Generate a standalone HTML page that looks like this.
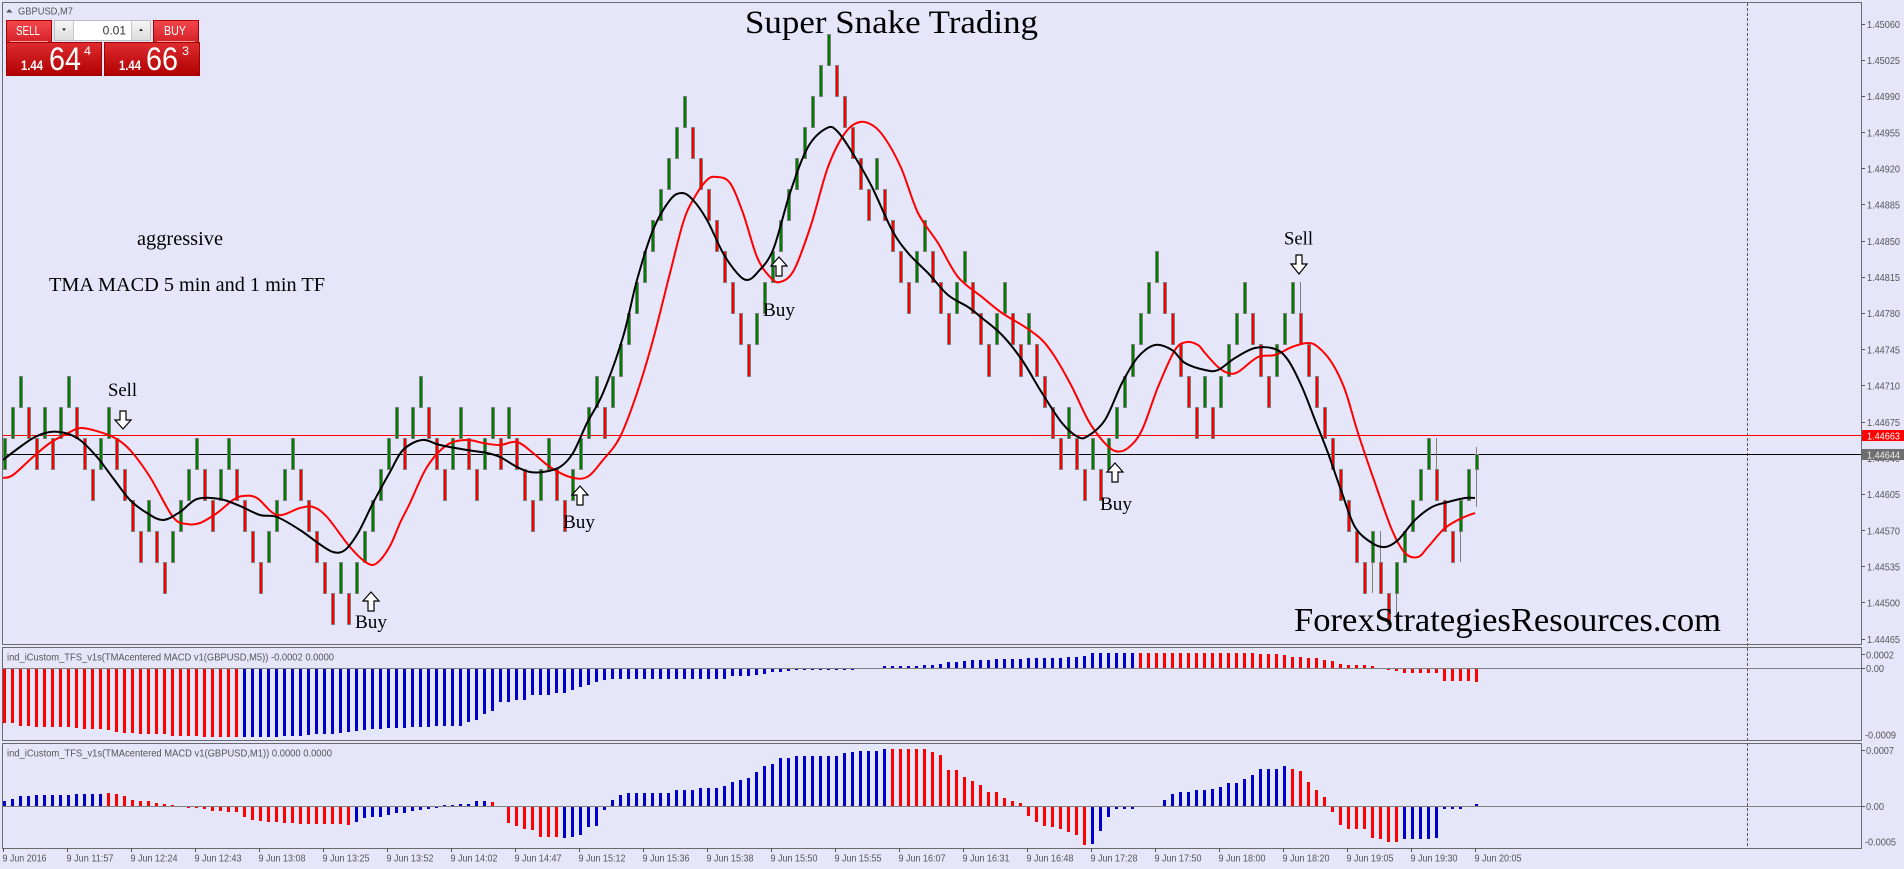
<!DOCTYPE html>
<html><head><meta charset="utf-8">
<style>
html,body{margin:0;padding:0;background:#E6E6FA;overflow:hidden;}
svg{display:block}
</style></head>
<body>
<svg id="c" width="1904" height="869" viewBox="0 0 1904 869" xmlns="http://www.w3.org/2000/svg">
<defs>
<linearGradient id="hd" x1="0" y1="0" x2="0" y2="1"><stop offset="0" stop-color="#f5484c"/><stop offset="1" stop-color="#d42028"/></linearGradient>
<linearGradient id="pr" x1="0" y1="0" x2="0" y2="1"><stop offset="0" stop-color="#de2c30"/><stop offset="1" stop-color="#b00000"/></linearGradient>
<linearGradient id="bt" x1="0" y1="0" x2="0" y2="1"><stop offset="0" stop-color="#f6f6f6"/><stop offset="1" stop-color="#dcdcdc"/></linearGradient>
</defs>
<rect width="1904" height="869" fill="#E6E6FA"/>

<!-- background lines -->
<line x1="1747.5" y1="3" x2="1747.5" y2="848" stroke="#555" stroke-width="1" stroke-dasharray="3,2"/>
<line x1="3" y1="435.5" x2="1861" y2="435.5" stroke="#ff0000" stroke-width="1"/>
<line x1="3" y1="454.5" x2="1861" y2="454.5" stroke="#000" stroke-width="1"/>
<line x1="3" y1="668.5" x2="1861" y2="668.5" stroke="#808080" stroke-width="1"/>
<line x1="3" y1="806.5" x2="1861" y2="806.5" stroke="#808080" stroke-width="1"/>

<g id="dyn"></g>

<!-- frames -->
<g fill="none" stroke="#6a6a6a" stroke-width="1">
<rect x="2.5" y="2.5" width="1859" height="642"/>
<rect x="2.5" y="647.5" width="1859" height="93"/>
<rect x="2.5" y="743.5" width="1859" height="105"/>
</g>

<!-- arrows -->
<g fill="#fff" stroke="#000" stroke-width="1.2" stroke-linejoin="miter">
<polygon points="120,411 126,411 126,420 131,420 123,429 115,420 120,420"/>
<polygon points="1296,255 1302,255 1302,264 1307,264 1299,274 1291,264 1296,264"/>
<polygon points="371,592 379,601 374,601 374,611 368,611 368,601 363,601"/>
<polygon points="580,486 588,495 583,495 583,505 577,505 577,495 572,495"/>
<polygon points="779,257 787,266 782,266 782,276 776,276 776,266 771,266"/>
<polygon points="1115,463 1123,472 1118,472 1118,482 1112,482 1112,472 1107,472"/>
</g>

<!-- serif annotations -->
<g font-family="'Liberation Serif', serif" fill="#000">
<text x="745" y="33" font-size="33" textLength="293" lengthAdjust="spacingAndGlyphs">Super Snake Trading</text>
<text x="137" y="245" font-size="20" textLength="86" lengthAdjust="spacingAndGlyphs">aggressive</text>
<text x="49" y="291" font-size="20" textLength="276" lengthAdjust="spacingAndGlyphs">TMA MACD 5 min and 1 min TF</text>
<text x="108" y="396" font-size="19" textLength="29" lengthAdjust="spacingAndGlyphs">Sell</text>
<text x="1284" y="244.5" font-size="19" textLength="29" lengthAdjust="spacingAndGlyphs">Sell</text>
<text x="355" y="628" font-size="19" textLength="32" lengthAdjust="spacingAndGlyphs">Buy</text>
<text x="563" y="528" font-size="19" textLength="32" lengthAdjust="spacingAndGlyphs">Buy</text>
<text x="763" y="316" font-size="19" textLength="32" lengthAdjust="spacingAndGlyphs">Buy</text>
<text x="1100" y="510" font-size="19" textLength="32" lengthAdjust="spacingAndGlyphs">Buy</text>
<text x="1294" y="631" font-size="34" textLength="427" lengthAdjust="spacingAndGlyphs">ForexStrategiesResources.com</text>
</g>

<!-- right axis -->
<g stroke="#555" stroke-width="1">
<path d="M1862,24.5h3M1862,60.5h3M1862,96.5h3M1862,132.5h3M1862,168.5h3M1862,204.5h3M1862,241.5h3M1862,277.5h3M1862,313.5h3M1862,349.5h3M1862,385.5h3M1862,422.5h3M1862,458.5h3M1862,494.5h3M1862,530.5h3M1862,566.5h3M1862,602.5h3M1862,639.5h3M1862,654.5h3M1862,668.5h3M1862,750.5h3M1862,806.5h3"/>
<path d="M3.5,848v4M67.5,848v4M131.5,848v4M195.5,848v4M259.5,848v4M323.5,848v4M387.5,848v4M451.5,848v4M515.5,848v4M579.5,848v4M643.5,848v4M707.5,848v4M771.5,848v4M835.5,848v4M899.5,848v4M963.5,848v4M1027.5,848v4M1091.5,848v4M1155.5,848v4M1219.5,848v4M1283.5,848v4M1347.5,848v4M1411.5,848v4M1475.5,848v4"/>
</g>
<g font-family="'Liberation Sans', sans-serif" font-size="10.5" fill="#555">
<text x="1867" y="27.8" textLength="33" lengthAdjust="spacingAndGlyphs">1.45060</text>
<text x="1867" y="64" textLength="33" lengthAdjust="spacingAndGlyphs">1.45025</text>
<text x="1867" y="100.2" textLength="33" lengthAdjust="spacingAndGlyphs">1.44990</text>
<text x="1867" y="136.3" textLength="33" lengthAdjust="spacingAndGlyphs">1.44955</text>
<text x="1867" y="172.5" textLength="33" lengthAdjust="spacingAndGlyphs">1.44920</text>
<text x="1867" y="208.7" textLength="33" lengthAdjust="spacingAndGlyphs">1.44885</text>
<text x="1867" y="244.9" textLength="33" lengthAdjust="spacingAndGlyphs">1.44850</text>
<text x="1867" y="281.1" textLength="33" lengthAdjust="spacingAndGlyphs">1.44815</text>
<text x="1867" y="317.2" textLength="33" lengthAdjust="spacingAndGlyphs">1.44780</text>
<text x="1867" y="353.4" textLength="33" lengthAdjust="spacingAndGlyphs">1.44745</text>
<text x="1867" y="389.6" textLength="33" lengthAdjust="spacingAndGlyphs">1.44710</text>
<text x="1867" y="425.8" textLength="33" lengthAdjust="spacingAndGlyphs">1.44675</text>
<text x="1867" y="462" textLength="33" lengthAdjust="spacingAndGlyphs">1.44640</text>
<text x="1867" y="498.2" textLength="33" lengthAdjust="spacingAndGlyphs">1.44605</text>
<text x="1867" y="534.3" textLength="33" lengthAdjust="spacingAndGlyphs">1.44570</text>
<text x="1867" y="570.5" textLength="33" lengthAdjust="spacingAndGlyphs">1.44535</text>
<text x="1867" y="606.7" textLength="33" lengthAdjust="spacingAndGlyphs">1.44500</text>
<text x="1867" y="642.9" textLength="33" lengthAdjust="spacingAndGlyphs">1.44465</text>
<text x="1866" y="658.5" textLength="28" lengthAdjust="spacingAndGlyphs">0.0002</text>
<text x="1866" y="672" textLength="18" lengthAdjust="spacingAndGlyphs">0.00</text>
<text x="1865" y="738.5" textLength="31" lengthAdjust="spacingAndGlyphs">-0.0009</text>
<text x="1866" y="754" textLength="28" lengthAdjust="spacingAndGlyphs">0.0007</text>
<text x="1866" y="810" textLength="18" lengthAdjust="spacingAndGlyphs">0.00</text>
<text x="1865" y="845.5" textLength="31" lengthAdjust="spacingAndGlyphs">-0.0005</text>

<text x="7" y="660.5" textLength="327" lengthAdjust="spacingAndGlyphs">ind_iCustom_TFS_v1s(TMAcentered MACD v1(GBPUSD,M5)) -0.0002 0.0000</text>
<text x="7" y="756.5" textLength="325" lengthAdjust="spacingAndGlyphs">ind_iCustom_TFS_v1s(TMAcentered MACD v1(GBPUSD,M1)) 0.0000 0.0000</text>
<text x="18" y="14.3" textLength="55" lengthAdjust="spacingAndGlyphs">GBPUSD,M7</text>

<text x="2.5" y="861.5" textLength="44" lengthAdjust="spacingAndGlyphs">9 Jun 2016</text>
<text x="66.5" y="861.5" textLength="47" lengthAdjust="spacingAndGlyphs">9 Jun 11:57</text>
<text x="130.5" y="861.5" textLength="47" lengthAdjust="spacingAndGlyphs">9 Jun 12:24</text>
<text x="194.5" y="861.5" textLength="47" lengthAdjust="spacingAndGlyphs">9 Jun 12:43</text>
<text x="258.5" y="861.5" textLength="47" lengthAdjust="spacingAndGlyphs">9 Jun 13:08</text>
<text x="322.5" y="861.5" textLength="47" lengthAdjust="spacingAndGlyphs">9 Jun 13:25</text>
<text x="386.5" y="861.5" textLength="47" lengthAdjust="spacingAndGlyphs">9 Jun 13:52</text>
<text x="450.5" y="861.5" textLength="47" lengthAdjust="spacingAndGlyphs">9 Jun 14:02</text>
<text x="514.5" y="861.5" textLength="47" lengthAdjust="spacingAndGlyphs">9 Jun 14:47</text>
<text x="578.5" y="861.5" textLength="47" lengthAdjust="spacingAndGlyphs">9 Jun 15:12</text>
<text x="642.5" y="861.5" textLength="47" lengthAdjust="spacingAndGlyphs">9 Jun 15:36</text>
<text x="706.5" y="861.5" textLength="47" lengthAdjust="spacingAndGlyphs">9 Jun 15:38</text>
<text x="770.5" y="861.5" textLength="47" lengthAdjust="spacingAndGlyphs">9 Jun 15:50</text>
<text x="834.5" y="861.5" textLength="47" lengthAdjust="spacingAndGlyphs">9 Jun 15:55</text>
<text x="898.5" y="861.5" textLength="47" lengthAdjust="spacingAndGlyphs">9 Jun 16:07</text>
<text x="962.5" y="861.5" textLength="47" lengthAdjust="spacingAndGlyphs">9 Jun 16:31</text>
<text x="1026.5" y="861.5" textLength="47" lengthAdjust="spacingAndGlyphs">9 Jun 16:48</text>
<text x="1090.5" y="861.5" textLength="47" lengthAdjust="spacingAndGlyphs">9 Jun 17:28</text>
<text x="1154.5" y="861.5" textLength="47" lengthAdjust="spacingAndGlyphs">9 Jun 17:50</text>
<text x="1218.5" y="861.5" textLength="47" lengthAdjust="spacingAndGlyphs">9 Jun 18:00</text>
<text x="1282.5" y="861.5" textLength="47" lengthAdjust="spacingAndGlyphs">9 Jun 18:20</text>
<text x="1346.5" y="861.5" textLength="47" lengthAdjust="spacingAndGlyphs">9 Jun 19:05</text>
<text x="1410.5" y="861.5" textLength="47" lengthAdjust="spacingAndGlyphs">9 Jun 19:30</text>
<text x="1474.5" y="861.5" textLength="47" lengthAdjust="spacingAndGlyphs">9 Jun 20:05</text>
</g>
<polygon points="6,12.5 12.5,12.5 9.25,9" fill="#555"/>

<!-- price boxes -->
<rect x="1862" y="430" width="42" height="11" fill="#ff0000"/>
<text x="1867" y="439.3" font-family="'Liberation Sans', sans-serif" font-size="10.5" fill="#fff" textLength="33" lengthAdjust="spacingAndGlyphs">1.44663</text>
<rect x="1862" y="449" width="42" height="11" fill="#6e6e6e"/>
<text x="1867" y="458.3" font-family="'Liberation Sans', sans-serif" font-size="10.5" fill="#eee" textLength="33" lengthAdjust="spacingAndGlyphs">1.44644</text>

<!-- one-click trading panel -->
<rect x="6.5" y="42.5" width="95" height="33" fill="url(#pr)" stroke="#a30000"/>
<rect x="104.5" y="42.5" width="95" height="33" fill="url(#pr)" stroke="#a30000"/>
<rect x="6.5" y="20.5" width="45" height="22" fill="url(#hd)" stroke="#a30000"/>
<rect x="153.5" y="20.5" width="45" height="22" fill="url(#hd)" stroke="#a30000"/>
<line x1="10" y1="41.5" x2="48" y2="41.5" stroke="#f7a0a0"/>
<line x1="157" y1="41.5" x2="195" y2="41.5" stroke="#f7a0a0"/>
<rect x="54.5" y="20.5" width="96" height="20" fill="#fff" stroke="#bdbdbd"/>
<rect x="55" y="21" width="18" height="19" fill="url(#bt)"/>
<rect x="132" y="21" width="18" height="19" fill="url(#bt)"/>
<line x1="73.5" y1="21" x2="73.5" y2="40" stroke="#c8c8c8"/>
<line x1="131.5" y1="21" x2="131.5" y2="40" stroke="#c8c8c8"/>
<polygon points="62,28.5 66,28.5 64,31" fill="#222"/>
<polygon points="139,31 143,31 141,28.5" fill="#222"/>
<g font-family="'Liberation Sans', sans-serif" fill="#fff">
<text x="16" y="35" font-size="13" textLength="24" lengthAdjust="spacingAndGlyphs">SELL</text>
<text x="164" y="35" font-size="13" textLength="22" lengthAdjust="spacingAndGlyphs">BUY</text>
<text x="21" y="70" font-size="14" font-weight="bold" textLength="22" lengthAdjust="spacingAndGlyphs">1.44</text>
<text x="49" y="70" font-size="32" textLength="32" lengthAdjust="spacingAndGlyphs">64</text>
<text x="84" y="55" font-size="12" textLength="7" lengthAdjust="spacingAndGlyphs">4</text>
<text x="119" y="70" font-size="14" font-weight="bold" textLength="22" lengthAdjust="spacingAndGlyphs">1.44</text>
<text x="146" y="70" font-size="32" textLength="32" lengthAdjust="spacingAndGlyphs">66</text>
<text x="182" y="55" font-size="12" textLength="7" lengthAdjust="spacingAndGlyphs">3</text>
</g>
<text x="126" y="34.5" font-family="'Liberation Sans', sans-serif" font-size="12" fill="#333" text-anchor="end">0.01</text>
</svg>

<script>
(function(){
var NS='http://www.w3.org/2000/svg';
var g=document.getElementById('dyn');
function el(n,a){var e=document.createElementNS(NS,n);for(var k in a)e.setAttribute(k,a[k]);g.appendChild(e);return e;}
var seq=["GGGRRGRGGR","RRGGRRRRGR","RGGGGRRGGR","RRRGGGGRRR","RRGRGGGGGG","RGGRRRGGRR","GGRGRRRGGR","RGGGGRGGGG","GGGGGGRRRR","RRRRGGGGGG","GGGGRRRRRG","RRRRGGRRRG","GRRRGGRRGR","RRRGRRGRGG","GGGGGRRRRR","GRGGGGRRRG","GGRRRRRRRR","RGRRGGGGGR","RRGG"].join('');
function top(t){return Math.round(375.5+31.01*t);}

/* histograms */
var m5=[-54.3,-54.3,-56.7,-56.7,-57.7,-57.7,-57.7,-57.7,-58.3,-59.3,
-60,-60,-60.3,-61,-62.7,-63.7,-64.3,-65,-65,-65.3,
-65.3,-66.7,-66.7,-66.7,-67,-67.7,-67.7,-67.7,-67.7,-67.7,
-67.7,-67.7,-67.7,-67.7,-67.7,-67,-67,-67,-66,-65.3,
-65.3,-65.3,-64.3,-62.7,-61.7,-61,-60,-60,-59.3,-59.3,
-59,-58.3,-58.3,-58.3,-56.7,-56.7,-56.7,-56.7,-52.7,-50.7,
-44.7,-42.3,-33.3,-33.3,-30.7,-30.7,-25.7,-25.7,-25.7,-23.7,
-23.7,-21,-18.3,-16,-13.3,-11.3,-9.7,-9.7,-9.7,-9.7,
-9.7,-9.7,-9.7,-9.7,-9.7,-9.7,-9.7,-9.7,-9.7,-9.7,
-9.7,-7.3,-7.3,-7.3,-5.7,-5,-3.3,-3.3,-2,-1.3,
-1.3,-1.3,-1.3,-1.3,-1.3,-1.3,-1.3,0,0,0,
2.3,2.3,2.3,2.3,2.3,2.7,3.3,4.3,6.3,6.3,
7,7.7,8.3,8.3,8.7,9.3,9.3,9.3,10.3,10.3,
10.3,10.3,10.3,11.3,11.3,12.3,14.7,15.3,15.3,15.3,
15.3,15.3,15.3,15.3,15.3,15.3,15.3,15.3,15.3,15.3,
15.3,15.3,15.3,15.3,15.3,15.3,15.3,14.3,14.3,14.3,
13.3,11.3,11.3,9.7,9.7,8.3,7,4.3,3.3,3.3,
3.3,1.7,0,-1.3,-2,-4.3,-4.3,-4.3,-4.3,-4.3,
-12.3,-12.3,-12.3,-12.3,-13.3];
var m1=[5,7,10,10,11,11,11,11,11,12,
12,12,12,13,12,10,6,5,5,3,
2,1,0,-1,-1,-1.7,-3.7,-3.7,-4.7,-4.7,
-9.7,-12.7,-13.7,-14.7,-14.7,-15.7,-15.7,-16.7,-16.7,-16.7,
-16.7,-16.7,-16.7,-17.7,-14.7,-10.7,-9.7,-9.7,-7.7,-5.7,
-5.7,-3.7,-2.7,-2.3,-1.3,1,1,2,2,5,
5,4,0,-15.7,-19,-21.7,-22.7,-29.7,-29.7,-29.7,
-30.7,-29.7,-27.7,-19.7,-18.7,-3,6,11,13,13,
13,13,13,13,16,16,16,18,18,18,
20,24,26,28,34,40,42,48,48,50,
50,50,50,50,50,53,54,55,55,55,
57,57,57,57,57,57,54,51,36,36,
29,25,21,14,14,8,5,3,-9,-14.7,
-18.7,-19.7,-21.7,-24.7,-27.7,-37.7,-36.7,-23.7,-9.7,-2.3,
-2.3,-2.3,0,0,0,6,12,14,14,16,
16,17,19,23,23,27,31,37,37,37,
40,37,35,24,16,9,-4.7,-17.7,-21.7,-21.7,
-21.7,-30.7,-31.7,-34.7,-34.7,-31.7,-31.7,-31.7,-31.7,-30.7,
-1.7,-1.7,-1.7,0,2];
function c5(i){return (i<=29||i>=142)?'R':'B';}
function c1(i){if(i<=12)return 'B';if(i<=43)return 'R';if(i<=60)return 'B';if(i<=69)return 'R';if(i<=110)return 'B';if(i<=135)return 'R';if(i<=160)return 'B';if(i<=174)return 'R';return 'B';}
function hist(arr,zero,cf){
  var pr='',pb='';
  for(var i=0;i<arr.length;i++){
    var v=arr[i]; if(Math.abs(v)<0.5)continue;
    var h=Math.round(Math.abs(v)); if(h<1)h=1;
    var x=3+8*i, y=v<0?zero+1:zero-h;
    var s='M'+x+','+y+'h3v'+h+'h-3z';
    if(cf(i)==='R')pr+=s;else pb+=s;
  }
  el('path',{d:pr,fill:'#ff0000'});
  el('path',{d:pb,fill:'#0000cc'});
}
hist(m5,668,c5);
hist(m1,806,c1);

/* wicks */
var wk=[[162,top(-3),top(-2)],[171,top(6),top(7)],[172,top(5),top(6)],[174,top(7),630],[179,top(2),top(3)],[182,top(5),top(6)],[184,447,507]];
var wp='';
for(var k=0;k<wk.length;k++){wp+='M'+(4+8*wk[k][0])+','+wk[k][1]+'h1v'+(wk[k][2]-wk[k][1])+'h-1z';}
el('path',{d:wp,fill:'#808080'});

/* bricks */
var gp='',gr='',rd='';
var cur=3;
for(var i=0;i<seq.length;i++){
  var c=seq[i]; cur+=(c==='G')?-1:1;
  var y1=top(cur),y2=top(cur+1),x=3+8*i;
  gp+='M'+x+','+y1+'h4v'+(y2-y1+1)+'h-4z';
  var inner='M'+(x+1)+','+(y1+1)+'h2v'+(y2-y1-1)+'h-2z';
  if(c==='G')gr+=inner;else rd+=inner;
}
/* partial last brick */
gp+='M1475,454h4v16h-4z'; gr+='M1476,455h2v14h-2z';
el('path',{d:gp,fill:'#808080'});
el('path',{d:gr,fill:'#008000'});
el('path',{d:rd,fill:'#ff0000'});

/* moving average lines */
function smooth(p){
  var d='M'+p[0][0]+','+p[0][1];
  for(var i=0;i<p.length-1;i++){
    var p0=p[i-1]||p[i],p1=p[i],p2=p[i+1],p3=p[i+2]||p2;
    var a=(p1[0]+(p2[0]-p0[0])/6).toFixed(1),b=(p1[1]+(p2[1]-p0[1])/6).toFixed(1),
        c=(p2[0]-(p3[0]-p1[0])/6).toFixed(1),e=(p2[1]-(p3[1]-p1[1])/6).toFixed(1);
    d+=' C'+a+','+b+' '+c+','+e+' '+p2[0]+','+p2[1];
  }
  return d;
}
var red=[[3,478],[13,475],[33,457],[50,443],[70,432],[80,428],[93,430],[113,437],[130,450],[150,477],[173,517],[187,524],[200,523],[217,513],[233,500],[243,496],[257,498],[277,515],[300,508],[313,507],[327,517],[350,547],[367,563],[377,563],[390,546],[400,523],[410,503],[427,467],[447,445],[467,440],[483,443],[500,445],[517,442],[533,453],[550,467],[570,477],[587,477],[603,460],[620,437],[637,393],[653,340],[670,273],[683,223],[693,200],[707,180],[717,177],[730,183],[743,213],[757,257],[770,277],[780,282],[794,270],[811,225],[828,167],[845,133],[860,122],[875,127],[888,143],[902,170],[918,213],[938,243],[958,277],[982,297],[1002,313],[1025,327],[1042,340],[1055,357],[1072,387],[1088,420],[1102,440],[1115,451],[1128,448],[1142,430],[1158,387],[1175,350],[1187,342],[1198,345],[1205,353],[1218,367],[1228,373],[1238,372],[1258,357],[1275,355],[1292,347],[1308,343],[1318,347],[1332,363],[1345,390],[1358,433],[1375,483],[1392,530],[1405,553],[1418,557],[1428,547],[1445,528],[1462,518],[1475,513]];
var blk=[[3,460],[20,447],[35,437],[50,432],[65,433],[80,440],[97,457],[113,478],[130,500],[147,513],[163,520],[180,512],[197,499],[220,499],[240,506],[260,515],[277,517],[300,530],[318,543],[333,552],[345,550],[358,533],[373,503],[390,472],[403,450],[422,440],[440,445],[467,450],[487,453],[500,457],[517,467],[530,472],[543,472],[560,467],[573,453],[587,423],[603,393],[623,337],[637,280],[653,230],[670,200],[682,193],[693,200],[707,220],[723,253],[737,273],[747,280],[757,273],[773,250],[790,193],[808,147],[827,128],[838,132],[855,157],[872,187],[892,230],[908,253],[928,273],[948,295],[968,307],[982,318],[1002,335],[1022,360],[1042,393],[1062,423],[1078,437],[1088,436],[1105,420],[1122,383],[1138,357],[1155,345],[1172,350],[1185,363],[1205,370],[1218,370],[1235,358],[1255,348],[1275,349],[1288,360],[1302,387],[1315,420],[1328,453],[1342,493],[1355,527],[1372,543],[1385,547],[1398,540],[1415,520],[1432,507],[1448,502],[1465,498],[1475,498]];
el('path',{d:smooth(red),fill:'none',stroke:'#ff0000','stroke-width':'2','stroke-linejoin':'round'});
el('path',{d:smooth(blk),fill:'none',stroke:'#000','stroke-width':'2','stroke-linejoin':'round'});
})();
</script>
</body></html>
